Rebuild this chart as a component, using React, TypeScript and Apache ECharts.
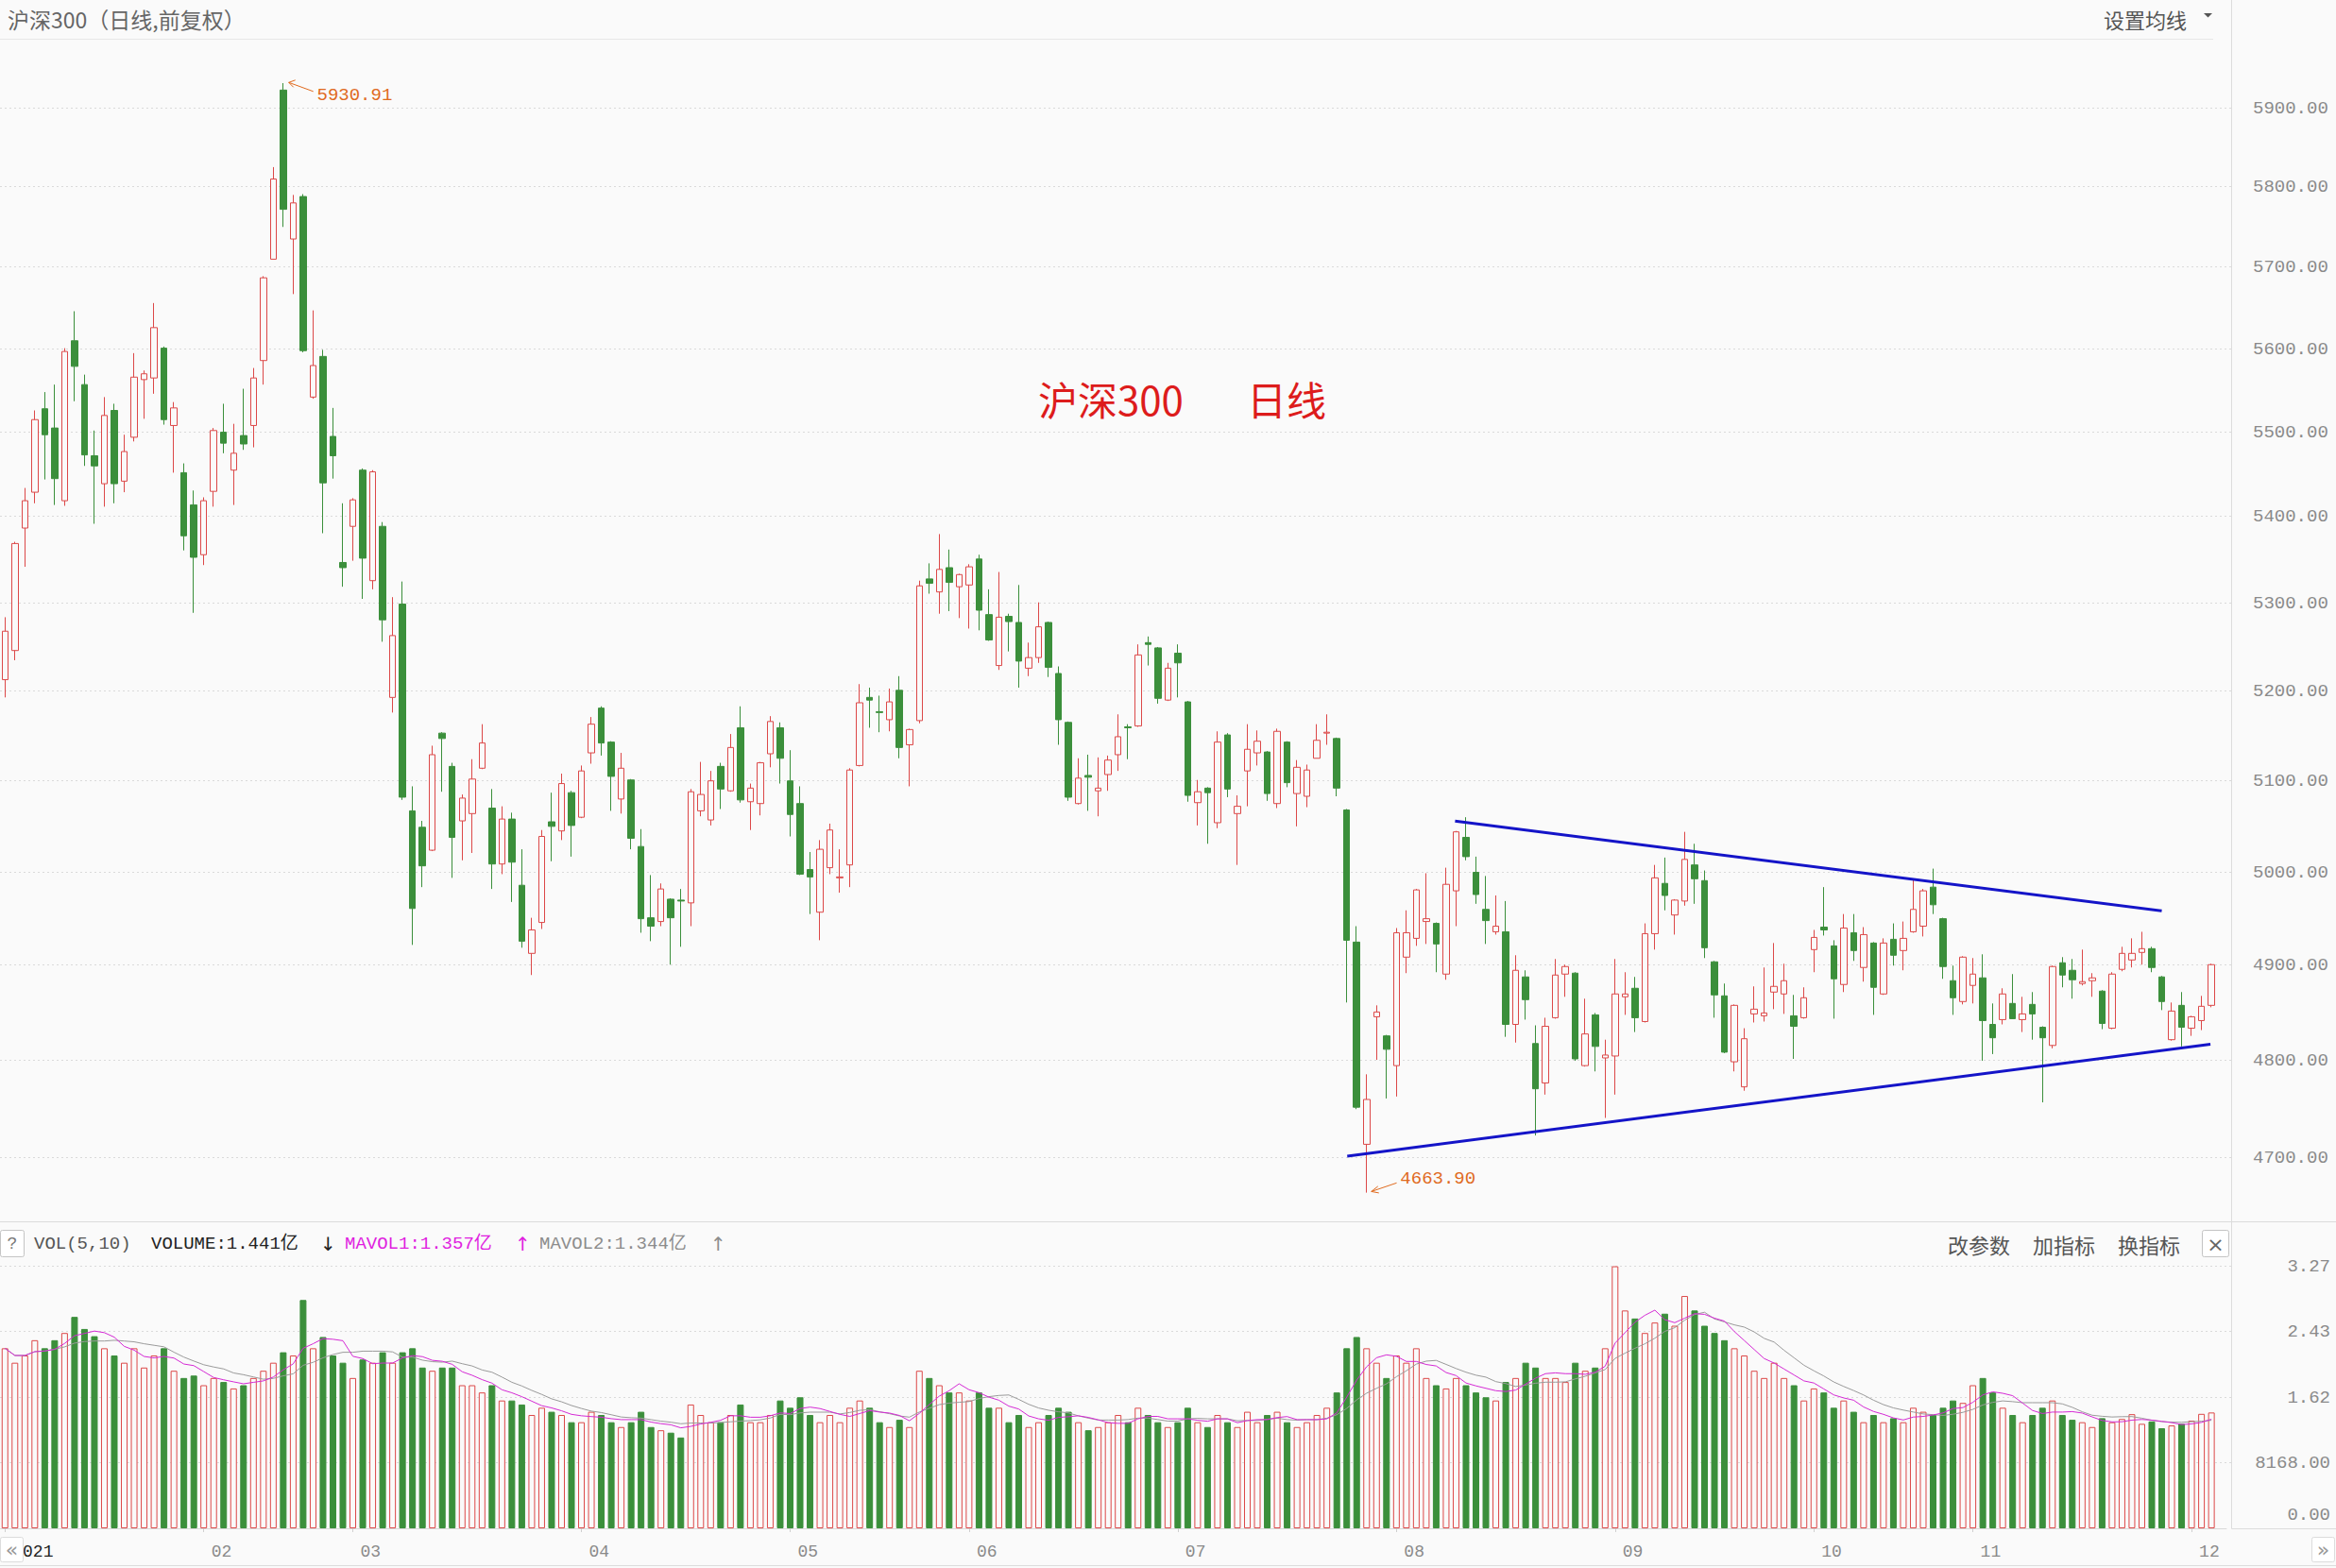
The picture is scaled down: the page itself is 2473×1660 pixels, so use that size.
import React, { useEffect, useRef } from "react";
import * as echarts from "echarts";

// ---------- data ----------
const MONTH_DAYS: number[][] = [
  [4, 5, 6, 7, 8, 11, 12, 13, 14, 15, 18, 19, 20, 21, 22, 25, 26, 27, 28, 29],
  [1, 2, 3, 4, 5, 8, 9, 10, 18, 19, 22, 23, 24, 25, 26],
  [1, 2, 3, 4, 5, 8, 9, 10, 11, 12, 15, 16, 17, 18, 19, 22, 23, 24, 25, 26, 29, 30, 31],
  [1, 2, 6, 7, 8, 9, 12, 13, 14, 15, 16, 19, 20, 21, 22, 23, 26, 27, 28, 29, 30],
  [6, 7, 10, 11, 12, 13, 14, 17, 18, 19, 20, 21, 24, 25, 26, 27, 28, 31],
  [1, 2, 3, 4, 7, 8, 9, 10, 11, 15, 16, 17, 18, 21, 22, 23, 24, 25, 28, 29, 30],
  [1, 2, 5, 6, 7, 8, 9, 12, 13, 14, 15, 16, 19, 20, 21, 22, 23, 26, 27, 28, 29, 30],
  [2, 3, 4, 5, 6, 9, 10, 11, 12, 13, 16, 17, 18, 19, 20, 23, 24, 25, 26, 27, 30, 31],
  [1, 2, 3, 6, 7, 8, 9, 10, 13, 14, 15, 16, 17, 22, 23, 24, 27, 28, 29, 30],
  [8, 11, 12, 13, 14, 15, 18, 19, 20, 21, 22, 25, 26, 27, 28, 29],
  [1, 2, 3, 4, 5, 8, 9, 10, 11, 12, 15, 16, 17, 18, 19, 22, 23, 24, 25, 26, 29, 30],
  [1, 2, 3],
];
const MONTH_TICK_LABELS = ["2021", "02", "03", "04", "05", "06", "07", "08", "09", "10", "11", "12"];

// [open, close, low, high]
const JAN = [
  [5212, 5267, 5192, 5283], [5245, 5368, 5234, 5370], [5386, 5418, 5341, 5433], [5428, 5514, 5415, 5525],
  [5527, 5496, 5443, 5547], [5504, 5444, 5413, 5556], [5418, 5596, 5412, 5600], [5609, 5578, 5536, 5645],
  [5556, 5472, 5459, 5568], [5471, 5459, 5391, 5501], [5438, 5519, 5411, 5541], [5525, 5438, 5415, 5533],
  [5441, 5476, 5428, 5496], [5493, 5565, 5488, 5594], [5562, 5569, 5515, 5573], [5564, 5625, 5545, 5655],
  [5600, 5514, 5508, 5602], [5507, 5528, 5451, 5535], [5451, 5377, 5360, 5462], [5413, 5352, 5288, 5430],
];
const FEB = [
  [5355, 5418, 5343, 5422], [5429, 5501, 5411, 5504], [5499, 5486, 5474, 5533], [5454, 5474, 5413, 5509],
  [5495, 5485, 5478, 5551], [5507, 5564, 5481, 5576], [5585, 5686, 5556, 5688], [5709, 5809, 5709, 5824],
  [5922, 5771, 5749, 5930.91], [5734, 5779, 5666, 5789], [5787, 5597, 5595, 5790], [5541, 5579, 5539, 5646],
  [5590, 5439, 5380, 5598], [5494, 5471, 5444, 5528], [5346, 5340, 5318, 5415],
];
const MAR = [
  [5388, 5419, 5348, 5421], [5454, 5351, 5304, 5456], [5325, 5452, 5315, 5454], [5388, 5280, 5255, 5393],
  [5192, 5262, 5175, 5306], [5298, 5081, 5078, 5324], [5066, 4960, 4921, 5093], [5048, 5006, 4983, 5055],
  [5023, 5128, 5022, 5138], [5152, 5146, 5087, 5153], [5115, 5037, 4993, 5119], [5055, 5080, 5012, 5084],
  [5063, 5101, 5020, 5123], [5113, 5141, 5112, 5162], [5069, 5008, 4981, 5090], [5008, 5057, 4997, 5071],
  [5057, 5010, 4967, 5064], [4985, 4925, 4918, 5024], [4912, 4937, 4889, 4950], [4945, 5038, 4938, 5045],
  [5054, 5049, 5011, 5086], [5044, 5096, 5034, 5107], [5086, 5050, 5016, 5088],
];
const APR = [
  [5059, 5110, 5058, 5116], [5130, 5162, 5118, 5170], [5180, 5141, 5127, 5182], [5142, 5104, 5066, 5143],
  [5079, 5113, 5063, 5130], [5100, 5036, 5024, 5101], [5027, 4949, 4934, 5046], [4950, 4941, 4925, 4996],
  [4946, 4981, 4941, 4987], [4970, 4950, 4900, 4971], [4969, 4968, 4919, 4981], [4966, 5087, 4941, 5090],
  [5066, 5084, 5060, 5120], [5056, 5099, 5050, 5110], [5115, 5090, 5068, 5119], [5088, 5136, 5087, 5151],
  [5158, 5078, 5075, 5182], [5076, 5091, 5045, 5096], [5074, 5119, 5061, 5120], [5129, 5165, 5114, 5171],
  [5158, 5124, 5096, 5164],
];
const MAY = [
  [5099, 5062, 5038, 5133], [5074, 4997, 4996, 5093], [5002, 4994, 4954, 5021], [4956, 5024, 4926, 5034],
  [5004, 5045, 4997, 5052], [4993, 4994, 4977, 5024], [5007, 5111, 4983, 5113], [5116, 5186, 5115, 5207],
  [5192, 5189, 5158, 5203], [5176, 5175, 5153, 5194], [5167, 5187, 5154, 5202], [5200, 5136, 5124, 5216],
  [5139, 5156, 5093, 5157], [5166, 5319, 5163, 5325], [5327, 5322, 5310, 5345], [5312, 5338, 5287, 5379],
  [5340, 5323, 5290, 5361], [5318, 5332, 5282, 5333],
];
const JUN = [
  [5320, 5341, 5270, 5344], [5350, 5291, 5268, 5355], [5286, 5257, 5256, 5315], [5228, 5283, 5223, 5335],
  [5284, 5278, 5244, 5287], [5277, 5233, 5203, 5320], [5225, 5237, 5216, 5254], [5237, 5272, 5231, 5300],
  [5277, 5226, 5215, 5278], [5219, 5167, 5139, 5227], [5164, 5081, 5077, 5165], [5074, 5102, 5073, 5124],
  [5105, 5103, 5066, 5128], [5088, 5091, 5060, 5125], [5106, 5122, 5088, 5127], [5128, 5148, 5110, 5173],
  [5159, 5158, 5123, 5162], [5160, 5240, 5159, 5252], [5254, 5252, 5228, 5261], [5248, 5191, 5185, 5249],
  [5189, 5225, 5188, 5231],
];
const JUL = [
  [5242, 5231, 5192, 5252], [5187, 5083, 5076, 5188], [5075, 5087, 5050, 5100], [5091, 5086, 5030, 5092],
  [5053, 5142, 5047, 5154], [5150, 5090, 5081, 5152], [5063, 5071, 5007, 5083], [5110, 5134, 5071, 5162],
  [5130, 5143, 5116, 5155], [5131, 5085, 5077, 5132], [5074, 5154, 5069, 5157], [5142, 5097, 5092, 5143],
  [5085, 5114, 5049, 5122], [5082, 5111, 5070, 5117], [5124, 5144, 5124, 5162], [5152, 5153, 5139, 5173],
  [5146, 5091, 5082, 5147], [5067, 4926, 4860, 5068], [4924, 4751, 4749, 4941], [4713, 4759, 4663.9, 4785],
  [4845, 4850, 4800, 4857], [4825, 4811, 4760, 4826],
];
const AUG = [
  [4794, 4934, 4762, 4939], [4908, 4934, 4891, 4958], [4928, 4980, 4920, 4981], [4946, 4949, 4922, 4998],
  [4944, 4922, 4892, 4945], [4890, 4986, 4884, 5004], [4979, 5043, 4941, 5044], [5037, 5016, 5012, 5059],
  [4999, 4975, 4965, 5016], [4959, 4947, 4922, 4995], [4935, 4941, 4932, 4974], [4935, 4837, 4824, 4968],
  [4837, 4894, 4818, 4910], [4887, 4863, 4842, 4894], [4817, 4770, 4722, 4836], [4776, 4835, 4764, 4844],
  [4844, 4889, 4843, 4906], [4890, 4898, 4866, 4900], [4891, 4801, 4799, 4892], [4794, 4827, 4793, 4864],
  [4847, 4814, 4788, 4849], [4802, 4805, 4740, 4821],
];
const SEP = [
  [4804, 4869, 4764, 4906], [4866, 4869, 4847, 4892], [4875, 4844, 4829, 4887], [4840, 4933, 4839, 4944],
  [4933, 4993, 4916, 5007], [4987, 4974, 4958, 5015], [4953, 4969, 4932, 4970], [4968, 5013, 4963, 5043],
  [5007, 4992, 4965, 5030], [4990, 4918, 4907, 5001], [4903, 4868, 4844, 4904], [4867, 4808, 4807, 4880],
  [4798, 4857, 4788, 4858], [4772, 4822, 4768, 4833], [4848, 4853, 4839, 4877], [4846, 4849, 4840, 4897],
  [4871, 4877, 4853, 4923], [4869, 4883, 4848, 4901], [4846, 4835, 4801, 4868], [4844, 4865, 4843, 4876],
];
const OCT = [
  [4916, 4929, 4892, 4937], [4940, 4937, 4931, 4983], [4920, 4885, 4843, 4926], [4879, 4939, 4871, 4954],
  [4934, 4915, 4904, 4954], [4897, 4932, 4882, 4940], [4923, 4876, 4847, 4924], [4869, 4923, 4868, 4928],
  [4927, 4910, 4899, 4944], [4915, 4928, 4894, 4946], [4935, 4959, 4934, 4991], [4941, 4979, 4930, 4981],
  [4983, 4964, 4954, 5003], [4949, 4898, 4885, 4950], [4883, 4865, 4847, 4899], [4861, 4908, 4858, 4909],
];
const NOV = [
  [4878, 4890, 4859, 4907], [4886, 4841, 4799, 4911], [4837, 4823, 4806, 4859], [4842, 4869, 4837, 4875],
  [4859, 4843, 4843, 4890], [4842, 4848, 4829, 4866], [4858, 4848, 4821, 4871], [4834, 4823, 4756, 4835],
  [4815, 4898, 4812, 4899], [4902, 4889, 4876, 4908], [4894, 4884, 4864, 4906], [4880, 4882, 4878, 4916],
  [4883, 4886, 4866, 4891], [4872, 4838, 4832, 4873], [4833, 4890, 4832, 4892], [4895, 4912, 4893, 4919],
  [4905, 4912, 4897, 4928], [4913, 4917, 4900, 4935], [4917, 4897, 4892, 4919], [4887, 4861, 4852, 4888],
  [4821, 4851, 4820, 4860], [4857, 4834, 4814, 4871],
];
const DEC = [
  [4833, 4845, 4825, 4846], [4841, 4856, 4831, 4867], [4857, 4900, 4855, 4901],
];

// volume, 亿
const VOL_JAN = [2.24, 2.06, 2.15, 2.34, 2.24, 2.34, 2.43, 2.63, 2.48, 2.39, 2.24, 2.15, 2.06, 2.24, 2.0, 2.15, 2.24, 1.96, 1.87, 1.9];
const VOL_FEB = [1.78, 1.87, 1.82, 1.74, 1.78, 1.87, 1.96, 2.06, 2.19, 2.15, 2.84, 2.24, 2.38, 2.15, 2.06];
const VOL_MAR = [1.87, 2.1, 2.06, 2.19, 2.06, 2.19, 2.24, 2.0, 1.96, 2.0, 2.0, 1.78, 1.78, 1.69, 1.78, 1.59, 1.59, 1.54, 1.41, 1.5, 1.45, 1.41, 1.32];
const VOL_APR = [1.32, 1.45, 1.41, 1.32, 1.26, 1.32, 1.45, 1.26, 1.22, 1.19, 1.13, 1.54, 1.41, 1.32, 1.32, 1.41, 1.54, 1.32, 1.32, 1.41, 1.59];
const VOL_MAY = [1.5, 1.63, 1.41, 1.32, 1.41, 1.32, 1.5, 1.59, 1.5, 1.32, 1.26, 1.35, 1.26, 1.96, 1.87, 1.78, 1.69, 1.69];
const VOL_JUN = [1.59, 1.69, 1.5, 1.5, 1.32, 1.41, 1.26, 1.32, 1.41, 1.5, 1.45, 1.32, 1.22, 1.26, 1.32, 1.41, 1.32, 1.5, 1.41, 1.32, 1.26];
const VOL_JUL = [1.32, 1.5, 1.32, 1.26, 1.41, 1.32, 1.26, 1.45, 1.32, 1.41, 1.45, 1.32, 1.26, 1.32, 1.41, 1.5, 1.69, 2.24, 2.38, 2.24, 2.06, 1.87];
const VOL_AUG = [2.15, 2.06, 2.24, 1.87, 1.78, 1.74, 1.87, 1.78, 1.69, 1.63, 1.59, 1.82, 1.87, 2.06, 2.0, 1.87, 1.87, 1.82, 2.06, 1.96, 2.0, 2.24];
const VOL_SEP = [3.26, 2.71, 2.61, 2.43, 2.56, 2.67, 2.52, 2.89, 2.71, 2.52, 2.43, 2.34, 2.24, 2.15, 1.96, 1.87, 2.06, 1.87, 1.78, 1.59];
const VOL_OCT = [1.74, 1.69, 1.5, 1.59, 1.45, 1.32, 1.41, 1.32, 1.37, 1.32, 1.5, 1.45, 1.41, 1.5, 1.59, 1.56];
const VOL_NOV = [1.78, 1.87, 1.69, 1.5, 1.41, 1.32, 1.41, 1.5, 1.59, 1.41, 1.35, 1.32, 1.26, 1.37, 1.32, 1.36, 1.42, 1.3, 1.33, 1.245, 1.28, 1.3];
const VOL_DEC = [1.34, 1.424, 1.441];

const PRICE_TICKS = [5900, 5800, 5700, 5600, 5500, 5400, 5300, 5200, 5100, 5000, 4900, 4800, 4700];
const VOL_TICKS = [3.27, 2.4525, 1.635, 0.8175, 0];
const VOL_TICK_LABELS = ["3.27", "2.43", "1.62", "8168.00", "0.00"];

const PEAK = { index: 28, value: 5930.91, label: "5930.91" };
const TROUGH = { index: 137, value: 4663.9, label: "4663.90" };
const TREND_UPPER = [[145.9, 5054.8], [217.0, 4957.5]];
const TREND_LOWER = [[135.05, 4701], [221.9, 4816.2]];

// ---------- styles ----------
const BG = "#fafafa";
const RED = "#dc4848";
const GREEN = "#3b8f3b";
const MONO = '"Liberation Mono", "Noto Sans CJK SC", monospace';
const CJK = '"Noto Sans CJK SC", "Noto Sans", sans-serif';
const W = 2473;
const H = 1660;
const GRID_LEFT = -5.17;
const STEP = 10.545;
const N_CAT = 224;
const SEP_X = 2362.5;

export default function App() {
  const ref = useRef<HTMLDivElement>(null);

  useEffect(() => {
    const el = ref.current;
    if (!el) return;
    const chart = echarts.init(el, null, { renderer: "svg" });

    const candles = [...JAN, ...FEB, ...MAR, ...APR, ...MAY, ...JUN, ...JUL, ...AUG, ...SEP, ...OCT, ...NOV, ...DEC];
    const vols = [...VOL_JAN, ...VOL_FEB, ...VOL_MAR, ...VOL_APR, ...VOL_MAY, ...VOL_JUN, ...VOL_JUL, ...VOL_AUG, ...VOL_SEP, ...VOL_OCT, ...VOL_NOV, ...VOL_DEC];

    const dates: string[] = [];
    const monthStart = new Map<number, string>();
    MONTH_DAYS.forEach((days, m) => {
      days.forEach((d, k) => {
        if (k === 0) monthStart.set(dates.length, MONTH_TICK_LABELS[m]);
        dates.push(`2021-${String(m + 1).padStart(2, "0")}-${String(d).padStart(2, "0")}`);
      });
    });
    const cats = [...dates];
    while (cats.length < N_CAT) cats.push("");

    const volData = vols.map((v, i) => {
      const c = candles[i];
      const up = c[1] > c[0] || (c[1] === c[0] && i > 0 && c[1] >= candles[i - 1][1]);
      return {
        value: v,
        itemStyle: up
          ? { color: BG, borderColor: RED, borderWidth: 1 }
          : { color: GREEN, borderColor: GREEN, borderWidth: 1 },
      };
    });
    const ma = (n: number) =>
      vols.map((_, i) => {
        const s = Math.max(0, i - n + 1);
        let sum = 0;
        for (let k = s; k <= i; k++) sum += vols[k];
        return +(sum / (i - s + 1)).toFixed(4);
      });

    const gridW = N_CAT * STEP;
    const option: any = {
      animation: false,
      backgroundColor: BG,
      grid: [
        { left: GRID_LEFT, top: 42, width: gridW, height: 1251 },
        { left: GRID_LEFT, top: 1339.7, width: gridW, height: 278.3 },
      ],
      xAxis: [
        {
          type: "category", gridIndex: 0, data: cats, boundaryGap: true,
          axisLine: { show: false }, axisTick: { show: false }, axisLabel: { show: false }, splitLine: { show: false },
        },
        {
          type: "category", gridIndex: 1, data: cats, boundaryGap: true,
          axisLine: { show: true, lineStyle: { color: "#d8d8d8" } },
          axisTick: {
            show: true, alignWithLabel: true, length: 4,
            interval: (i: number) => monthStart.has(i),
            lineStyle: { color: "#cfcfcf" },
          },
          axisLabel: {
            show: true,
            interval: (i: number) => monthStart.has(i),
            formatter: (_v: string, i: number) => (i === 0 ? "{y|2021}" : monthStart.get(i) || ""),
            align: "left",
            padding: [0, 0, 0, 8],
            margin: 16,
            color: "#8a8a8a",
            fontFamily: MONO,
            fontSize: 18,
            rich: { y: { color: "#222", fontFamily: MONO, fontSize: 18 } },
          },
          splitLine: { show: false },
        },
      ],
      yAxis: [
        {
          type: "log", logBase: 10, gridIndex: 0, min: 4635, max: 5987, scale: true,
          axisLine: { show: false }, axisTick: { show: false }, axisLabel: { show: false }, splitLine: { show: false },
        },
        {
          type: "value", gridIndex: 1, min: 0, max: 3.27,
          axisLine: { show: false }, axisTick: { show: false }, axisLabel: { show: false }, splitLine: { show: false },
        },
      ],
      series: [
        {
          type: "candlestick",
          xAxisIndex: 0, yAxisIndex: 0,
          data: candles,
          barWidth: 7,
          itemStyle: { color: BG, color0: GREEN, borderColor: RED, borderColor0: GREEN, borderWidth: 1 },
          z: 3,
        },
        {
          type: "bar", xAxisIndex: 1, yAxisIndex: 1, data: volData, barWidth: 7, z: 3,
        },
        {
          type: "line", xAxisIndex: 1, yAxisIndex: 1, data: ma(10), symbol: "none", showSymbol: false,
          lineStyle: { width: 1, color: "#9a9a9a" }, z: 4,
        },
        {
          type: "line", xAxisIndex: 1, yAxisIndex: 1, data: ma(5), symbol: "none", showSymbol: false,
          lineStyle: { width: 1, color: "#d42ad4" }, z: 5,
        },
      ],
    };
    chart.setOption(option);

    const yP = (v: number) => chart.convertToPixel({ yAxisIndex: 0 }, v) as number;
    const yV = (v: number) => chart.convertToPixel({ yAxisIndex: 1 }, v) as number;
    const xI = (i: number) => chart.convertToPixel({ xAxisIndex: 0 }, i) as number;
    const xAt = (f: number) => {
      const i = Math.floor(f);
      return xI(i) + (f - i) * (xI(i + 1) - xI(i));
    };

    const txt = (text: string, x: number, y: number, o: any = {}) => ({
      type: "text",
      x, y, z: o.z ?? 50, silent: true,
      style: {
        text,
        fill: o.fill ?? "#555",
        fontSize: o.size ?? 19,
        fontFamily: o.family ?? MONO,
        align: o.align ?? "left",
        textAlign: o.align ?? "left",
        verticalAlign: "middle",
        textVerticalAlign: "middle",
      },
    });
    const line = (x1: number, y1: number, x2: number, y2: number, stroke: string, o: any = {}) => ({
      type: "line", silent: true, z: o.z ?? 1,
      shape: { x1, y1, x2, y2 },
      style: { stroke, lineWidth: o.w ?? 1, lineDash: o.dash ?? null },
    });

    const g: any[] = [];
    // frame lines
    g.push(line(0, 41.5, 2343, 41.5, "#e6e6e6"));
    g.push(line(SEP_X, 0, SEP_X, 1618.5, "#dcdcdc", { z: 20 }));
    g.push(line(0, 1293.5, W, 1293.5, "#dcdcdc", { z: 20 }));
    g.push(line(SEP_X, 1618.5, W, 1618.5, "#dcdcdc", { z: 20 }));
    g.push(line(0, 1657.5, W, 1657.5, "#dcdcdc", { z: 20 }));

    // price grid + labels
    PRICE_TICKS.forEach((v) => {
      const y = Math.round(yP(v)) + 0.5;
      g.push(line(0, y, SEP_X, y, "#dadada", { dash: [2, 3], z: 0 }));
      g.push(txt(v.toFixed(2), 2385, y, { fill: "#8a8a8a" }));
    });
    // volume grid + labels
    VOL_TICKS.forEach((v, k) => {
      const y = Math.round(yV(v)) + 0.5;
      if (v > 0) g.push(line(0, y, SEP_X, y, "#dadada", { dash: [2, 3], z: 0 }));
      g.push(txt(VOL_TICK_LABELS[k], 2467, v === 0 ? y - 15 : y, { fill: "#8a8a8a", align: "right" }));
    });

    // header texts
    g.push(txt("沪深300（日线,前复权）", 8, 20, { family: CJK, size: 23, fill: "#666" }));
    g.push(txt("设置均线", 2227, 20, { family: CJK, size: 22, fill: "#555" }));
    g.push({ type: "polygon", silent: true, z: 50, shape: { points: [[2333, 14], [2342, 14], [2337.5, 18.5]] }, style: { fill: "#555" } });

    // red title
    g.push(txt("沪深300", 1099, 421, { family: CJK, size: 42, fill: "#dd1c1c" }));
    g.push(txt("日线", 1320, 421, { family: CJK, size: 42, fill: "#dd1c1c" }));

    // volume header
    g.push({ type: "rect", silent: true, z: 50, shape: { x: 0.5, y: 1302.5, width: 25, height: 28, r: 2 }, style: { fill: "#fff", stroke: "#c4c4c4" } });
    g.push(txt("?", 13, 1317, { align: "center", fill: "#777", size: 18 }));
    g.push(txt("VOL(5,10)", 36, 1317, { fill: "#555" }));
    g.push(txt("VOLUME:1.441亿", 160, 1317, { fill: "#222" }));
    g.push(txt("↓", 339, 1317, { fill: "#222", family: '"DejaVu Sans", sans-serif', size: 20 }));
    g.push(txt("MAVOL1:1.357亿", 365, 1317, { fill: "#e01ee0" }));
    g.push(txt("↑", 545, 1317, { fill: "#e01ee0", family: '"DejaVu Sans", sans-serif', size: 20 }));
    g.push(txt("MAVOL2:1.344亿", 571, 1317, { fill: "#8c8c8c" }));
    g.push(txt("↑", 752, 1317, { fill: "#8c8c8c", family: '"DejaVu Sans", sans-serif', size: 20 }));
    g.push(txt("改参数", 2062, 1317, { family: CJK, size: 22, fill: "#555" }));
    g.push(txt("加指标", 2152, 1317, { family: CJK, size: 22, fill: "#555" }));
    g.push(txt("换指标", 2242, 1317, { family: CJK, size: 22, fill: "#555" }));
    g.push({ type: "rect", silent: true, z: 50, shape: { x: 2331.5, y: 1302.5, width: 28, height: 28, r: 2 }, style: { fill: "#fff", stroke: "#c4c4c4" } });
    g.push(txt("×", 2345.5, 1317, { align: "center", fill: "#666", size: 22, family: '"DejaVu Sans", sans-serif' }));

    // scroll buttons
    g.push({ type: "rect", silent: true, z: 60, shape: { x: 0.5, y: 1627.5, width: 24, height: 26, r: 2 }, style: { fill: "#fff", stroke: "#dcdcdc" } });
    g.push(txt("«", 12.5, 1640, { align: "center", fill: "#999", size: 22, family: '"DejaVu Sans", sans-serif', z: 61 }));
    g.push({ type: "rect", silent: true, z: 60, shape: { x: 2447.5, y: 1627.5, width: 24, height: 26, r: 2 }, style: { fill: "#fff", stroke: "#dcdcdc" } });
    g.push(txt("»", 2459.5, 1640, { align: "center", fill: "#999", size: 22, family: '"DejaVu Sans", sans-serif', z: 61 }));

    // trend lines
    [TREND_UPPER, TREND_LOWER].forEach((t) => {
      g.push(line(xAt(t[0][0]), yP(t[0][1]), xAt(t[1][0]), yP(t[1][1]), "#1414c8", { w: 3, z: 30 }));
    });

    // extreme annotations
    const ann = (p: { index: number; value: number; label: string }, tip: number[], tail: number[], head: number[][], textPos: number[]) => {
      const [px, py] = chart.convertToPixel({ seriesIndex: 0 }, [p.index, p.value]) as number[];
      const C = "#e06a1e";
      const tx = px + tip[0], ty = py + tip[1];
      g.push(line(tx, ty, px + tail[0], py + tail[1], C, { z: 40 }));
      g.push({
        type: "polyline", silent: true, z: 40,
        shape: { points: [[tx + head[0][0], ty + head[0][1]], [tx, ty], [tx + head[1][0], ty + head[1][1]]] },
        style: { stroke: C, lineWidth: 1, fill: null },
      });
      g.push(txt(p.label, px + textPos[0], py + textPos[1], { fill: C, size: 19 }));
    };
    ann(PEAK, [5.8, -0.7], [31.8, 8.8], [[7, -2.5], [5, 5]], [35.6, 12.8]);
    ann(TROUGH, [5, -1.2], [31.8, -10.3], [[7, -5.5], [8, 1.5]], [35.6, -15]);

    chart.setOption({ graphic: g });

    return () => chart.dispose();
  }, []);

  return <div ref={ref} style={{ position: "fixed", left: 0, top: 0, width: W, height: H }} />;
}
